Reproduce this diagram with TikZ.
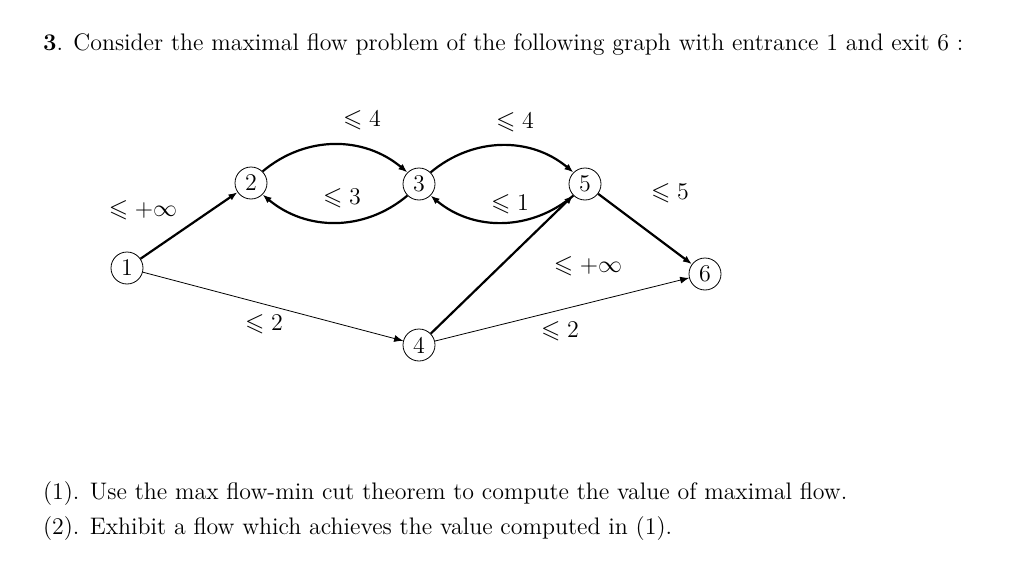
\documentclass[tikz,border=0pt]{standalone}
\usepackage{amssymb}
\usetikzlibrary{arrows.meta}
\begin{document}
\begin{tikzpicture}[x=0.5pt,y=-0.5pt,
  vtx/.style={circle,draw,thin,inner sep=0.5pt,minimum size=16pt,font=\fontsize{12}{13}\selectfont},
  thick arc/.style={line width=1.1pt,-{Latex[length=4.5pt,width=3.5pt]}},
  thin arc/.style={line width=0.4pt,-{Latex[length=4.5pt,width=3.5pt]}},
  lbl/.style={font=\fontsize{12.5}{13}\selectfont},
  txt/.style={anchor=west,font=\fontsize{11.95}{14}\selectfont}]
\useasboundingbox (0,0) rectangle (1024,578);
\node[txt] (title) at (36,45) {\textbf{3}. Consider the maximal flow problem of the following graph with entrance 1 and exit 6 :};
\node[vtx] (n1) at (127,268) {1};
\node[vtx] (n2) at (251,183) {2};
\node[vtx] (n3) at (419,184) {3};
\node[vtx] (n5) at (585,184) {5};
\node[vtx] (n6) at (705,274) {6};
\node[vtx] (n4) at (419,345) {4};
\draw[thick arc] (n1) -- (n2);
\draw[thick arc] (n2.north east) to[out=40,in=140] (n3.north west);
\draw[thick arc] (n3.south west) to[out=220,in=320] (n2.south east);
\draw[thick arc] (n3.north east) to[out=40,in=140] (n5.north west);
\draw[thick arc] (n5.south west) to[out=220,in=320] (n3.south east);
\draw[thick arc] (n5) -- (n6);
\draw[thick arc] (n4) -- (n5);
\draw[thin arc] (n1) -- (n4);
\draw[thin arc] (n4) -- (n6);
\node[lbl] (l12) at (143,210) {$\leqslant+\infty$};
\node[lbl] (l23) at (362,120) {$\leqslant 4$};
\node[lbl] (l32) at (342,198) {$\leqslant 3$};
\node[lbl] (l35) at (515,122) {$\leqslant 4$};
\node[lbl] (l53) at (510,204) {$\leqslant 1$};
\node[lbl] (l56) at (670,193) {$\leqslant 5$};
\node[lbl] (l45) at (588,266) {$\leqslant+\infty$};
\node[lbl] (l14) at (264,324) {$\leqslant 2$};
\node[lbl] (l46) at (560,331) {$\leqslant 2$};
\node[txt] (q1) at (36,494) {(1). Use the max flow-min cut theorem to compute the value of maximal flow.};
\node[txt] (q2) at (36,529) {(2). Exhibit a flow which achieves the value computed in (1).};
\end{tikzpicture}
\end{document}
